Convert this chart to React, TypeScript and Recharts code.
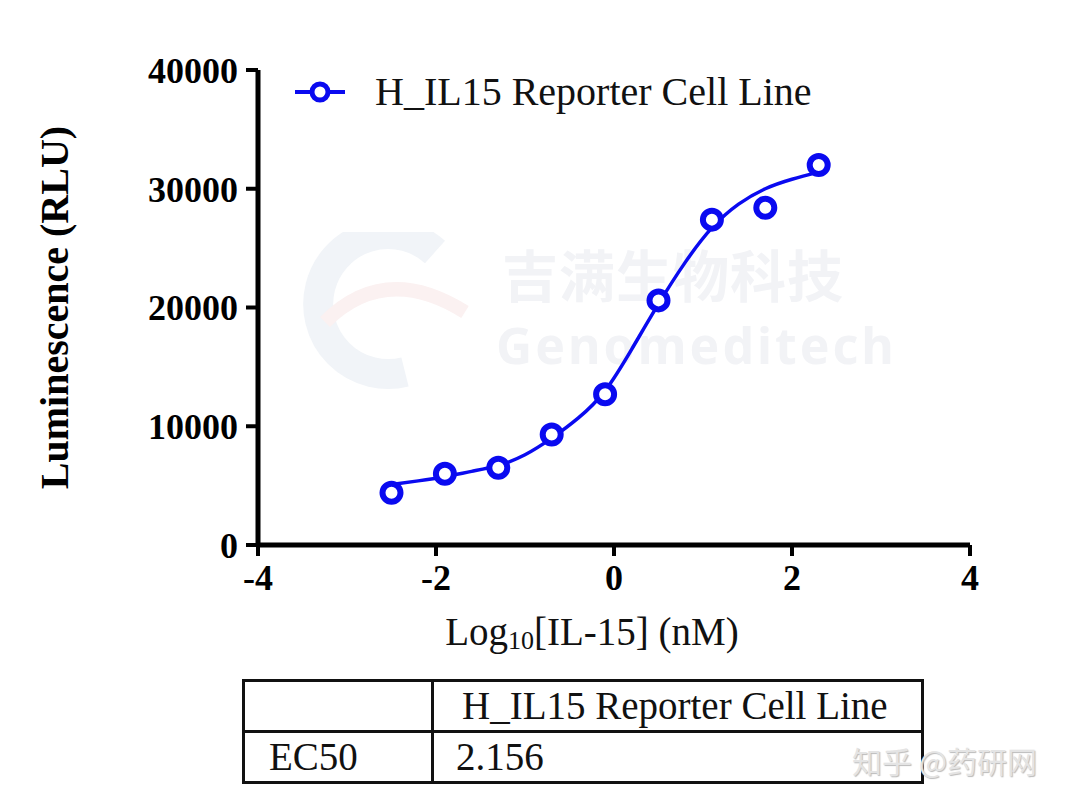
import React from 'react';
import {
  ComposedChart,
  Label,
  Line,
  Scatter,
  XAxis,
  YAxis,
} from 'recharts';

// measured points: log10 [IL-15] (nM) vs luminescence (RLU)
const pointLogConc = [-2.5, -1.9, -1.3, -0.7, -0.1, 0.5, 1.1, 1.7, 2.3];
const pointRlu = [4400, 6000, 6500, 9300, 12700, 20600, 27400, 28400, 32000];

// fitted curve
const curveLogConc = [-2.5, -2.2, -1.9, -1.6, -1.3, -1.0, -0.7, -0.4, -0.1, 0.2, 0.5, 0.8, 1.1, 1.4, 1.7, 2.0, 2.3];
const curveRlu = [5100, 5400, 5750, 6200, 6700, 7600, 9000, 10700, 13000, 16500, 20300, 23800, 26700, 28700, 30000, 30800, 31400];

const xTicks = [-4, -2, 0, 2, 4];
const yTicks = [0, 10000, 20000, 30000, 40000];

const seriesName = 'H_IL15 Reporter Cell Line';
const ec50 = '2.156';

const BLUE = '#0a0af0';
const FONT = '"Liberation Serif", "Times New Roman", serif';

const points = pointLogConc.map((x, i) => ({ x, y: pointRlu[i] }));
const curve = curveLogConc.map((x, i) => ({ x, y: curveRlu[i] }));

const RingDot = (props: any) => {
  const { cx, cy } = props;
  if (cx == null || cy == null) return null;
  return <circle cx={cx} cy={cy} r={9} fill="white" stroke={BLUE} strokeWidth={6} />;
};

const XAxisTitle = (props: any) => {
  const { viewBox } = props;
  const cx = viewBox.x + viewBox.width / 2 - 22;
  return (
    <text x={cx} y={viewBox.y + 100} textAnchor="middle" fontFamily={FONT} fontSize={39} fill="#111">
      Log
      <tspan fontSize={26} dy={4}>10</tspan>
      <tspan fontSize={39} dy={-4}>[IL-15] (nM)</tspan>
    </text>
  );
};

export default function App() {
  return (
    <div style={{ position: 'absolute', left: 0, top: 0, width: 1080, height: 803, background: 'white', fontFamily: FONT }}>
      {/* faint watermark */}
      <svg width={200} height={160} style={{ position: 'absolute', left: 285, top: 232 }}>
        <path d="M150 20 A70 70 0 1 0 120 140" fill="none" stroke="#f1f4f8" strokeWidth={30} />
        <path d="M40 90 Q100 30 180 80" fill="none" stroke="#fbf1f1" strokeWidth={14} />
      </svg>
      <div style={{ position: 'absolute', left: 502, top: 245, fontSize: 56, lineHeight: '56px', fontWeight: 700, color: '#f2f3f6', fontFamily: '"Noto Sans CJK SC", sans-serif', letterSpacing: 1 }}>
        吉满生物科技
      </div>
      <div style={{ position: 'absolute', left: 496, top: 320, fontSize: 50, lineHeight: '50px', fontWeight: 700, color: '#f2f3f6', fontFamily: '"Noto Sans", sans-serif', letterSpacing: 3 }}>
        Genomeditech
      </div>

      <ComposedChart
        width={1080}
        height={660}
        margin={{ top: 70, right: 110, bottom: 0, left: 0 }}
        style={{ position: 'absolute', left: 0, top: 0 }}
      >
        <XAxis
          type="number"
          dataKey="x"
          domain={[-4, 4]}
          ticks={xTicks}
          allowDataOverflow
          axisLine={{ stroke: '#000', strokeWidth: 5 }}
          tickLine={{ stroke: '#000', strokeWidth: 4 }}
          tickSize={11}
          tickMargin={8}
          tick={{ fill: '#000', fontSize: 36, fontWeight: 700, fontFamily: FONT }}
          height={115}
        >
          <Label content={<XAxisTitle />} />
        </XAxis>
        <YAxis
          type="number"
          dataKey="y"
          domain={[0, 40000]}
          ticks={yTicks}
          axisLine={{ stroke: '#000', strokeWidth: 5 }}
          tickLine={{ stroke: '#000', strokeWidth: 4 }}
          tickSize={12}
          tickMargin={8}
          tick={{ fill: '#000', fontSize: 36, fontWeight: 700, fontFamily: FONT }}
          width={258}
        >
          <Label
            value="Luminescence (RLU)"
            angle={-90}
            position="insideLeft"
            offset={54}
            style={{ fill: '#000', fontSize: 40, fontWeight: 700, fontFamily: FONT, textAnchor: 'middle' }}
          />
        </YAxis>
        <Line
          data={curve}
          dataKey="y"
          type="natural"
          stroke={BLUE}
          strokeWidth={3.5}
          dot={false}
          activeDot={false}
          legendType="none"
          isAnimationActive={false}
        />
        <Scatter data={points} dataKey="y" shape={<RingDot />} isAnimationActive={false} />
      </ComposedChart>

      {/* legend */}
      <div style={{ position: 'absolute', left: 290, top: 68, display: 'flex', alignItems: 'center', fontFamily: FONT, fontSize: 40, lineHeight: '48px', color: '#111' }}>
        <svg width={60} height={30} style={{ marginRight: 25 }}>
          <line x1={5} y1={15} x2={55} y2={15} stroke={BLUE} strokeWidth={4} />
          <circle cx={30} cy={15} r={8} fill="white" stroke={BLUE} strokeWidth={5} />
        </svg>
        <span>{seriesName}</span>
      </div>

      <table
        style={{
          position: 'absolute',
          left: 242,
          top: 679,
          width: 682,
          height: 102,
          borderCollapse: 'collapse',
          fontFamily: FONT,
          fontSize: 39,
          color: '#111',
        }}
      >
        <tbody>
          <tr style={{ height: 51 }}>
            <td style={{ width: 186, border: '3px solid #111', padding: 0 }}></td>
            <td style={{ border: '3px solid #111', padding: '0 0 0 28px', lineHeight: '44px' }}>{seriesName}</td>
          </tr>
          <tr style={{ height: 51 }}>
            <td style={{ border: '3px solid #111', padding: '0 0 0 24px', lineHeight: '44px' }}>EC50</td>
            <td style={{ border: '3px solid #111', padding: '0 0 0 22px', lineHeight: '44px' }}>{ec50}</td>
          </tr>
        </tbody>
      </table>

      <div style={{ position: 'absolute', left: 852, top: 738, fontSize: 30, color: '#e4e4e4', fontFamily: '"Noto Sans CJK SC", sans-serif', textShadow: '1px 1px 1px #bbb' }}>
        知乎 @药研网
      </div>
    </div>
  );
}
